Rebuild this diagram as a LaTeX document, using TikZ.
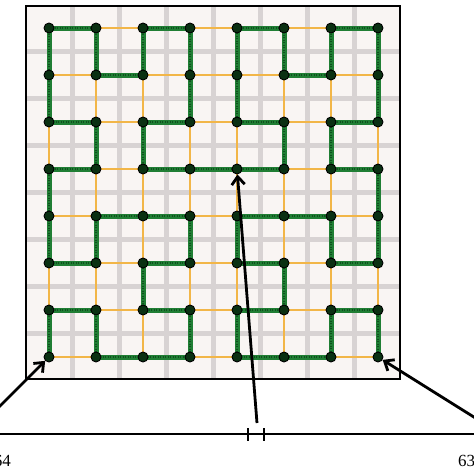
\documentclass[tikz,border=0pt]{standalone}
\usepackage{fontspec}
\setmainfont{Liberation Serif}
\usetikzlibrary{arrows.meta,backgrounds}

\definecolor{paper}{RGB}{249,245,243}
\definecolor{haze}{RGB}{216,211,211}
\definecolor{amber}{RGB}{242,182,72}
\definecolor{leaf}{RGB}{32,126,52}
\definecolor{leafdark}{RGB}{16,80,30}

\tikzset{
	gridpt/.style={circle, draw=black, line width=0.9pt, fill=leafdark!60!black, inner sep=0pt, minimum size=10pt},
	link/.style={draw=amber, line width=1.4pt},
	tour/.style={draw=leaf, line width=5pt, line join=round},
	tourdots/.style={draw=leafdark, line width=1.2pt, dash pattern=on 1pt off 1.5pt},
	pointer/.style={draw=black, line width=2.8pt, -{Straight Barb[length=8pt,width=13pt]}}
}

\begin{document}
\begin{tikzpicture}[x=1pt, y=-1pt, font=\fontsize{17}{19}\selectfont]
	\useasboundingbox (0, 0) rectangle (474, 474);

	\foreach \c in {0, ..., 7} {
		\foreach \r in {0, ..., 7} {
			\node [gridpt] (n-\c-\r) at (49 + 47*\c, 28 + 47*\r) {};
		}
	}

	\begin{scope}[on background layer]
		\fill [paper] (26, 6) rectangle (400, 379);
		\foreach \k in {1, ..., 7} {
			\draw [haze, line width=4.5pt] (25.5 + 47*\k, 6) -- (25.5 + 47*\k, 379);
			\draw [haze, line width=4.5pt] (26, 4.5 + 47*\k) -- (400, 4.5 + 47*\k);
		}
		\draw [line width=1.8pt] (26, 6) rectangle (400, 379);

		\foreach \k in {0, ..., 7} {
			\draw [link] (n-0-\k.center) -- (n-7-\k.center);
			\draw [link] (n-\k-0.center) -- (n-\k-7.center);
		}

		\draw [tour] (n-0-7.center) \foreach \c/\r in {0/6,1/6,1/7,2/7,3/7,3/6,2/6,2/5,3/5,3/4,2/4,1/4,1/5,0/5,0/4,0/3,1/3,1/2,0/2,0/1,0/0,1/0,1/1,2/1,2/0,3/0,3/1,3/2,2/2,2/3,3/3,4/3,5/3,5/2,4/2,4/1,4/0,5/0,5/1,6/1,6/0,7/0,7/1,7/2,6/2,6/3,7/3,7/4,7/5,6/5,6/4,5/4,4/4,4/5,5/5,5/6,4/6,4/7,5/7,6/7,6/6,7/6,7/7} {-- (n-\c-\r.center)};
		\draw [tourdots] (n-0-7.center) \foreach \c/\r in {0/6,1/6,1/7,2/7,3/7,3/6,2/6,2/5,3/5,3/4,2/4,1/4,1/5,0/5,0/4,0/3,1/3,1/2,0/2,0/1,0/0,1/0,1/1,2/1,2/0,3/0,3/1,3/2,2/2,2/3,3/3,4/3,5/3,5/2,4/2,4/1,4/0,5/0,5/1,6/1,6/0,7/0,7/1,7/2,6/2,6/3,7/3,7/4,7/5,6/5,6/4,5/4,4/4,4/5,5/5,5/6,4/6,4/7,5/7,6/7,6/6,7/6,7/7} {-- (n-\c-\r.center)};
	\end{scope}

	\coordinate (axl) at (-2, 434);
	\coordinate (axr) at (476, 434);
	\draw [line width=2.8pt] (axl) -- (axr);
	\draw [line width=2.8pt] (248, 428) -- (248, 441);
	\draw [line width=2.8pt] (264, 428) -- (264, 441);

	\coordinate (pl) at (-3, 409);
	\coordinate (pm) at (257, 423);
	\coordinate (pr) at (477, 419);
	\draw [pointer] (pl) -- (n-0-7);
	\draw [pointer] (pm) -- (n-4-3);
	\draw [pointer] (pr) -- (n-7-7);

	\node [anchor=east, inner sep=0pt] (lab-l) at (11, 461) {64};
	\node [anchor=west, inner sep=0pt] (lab-r) at (458, 461) {63};
\end{tikzpicture}
\end{document}
